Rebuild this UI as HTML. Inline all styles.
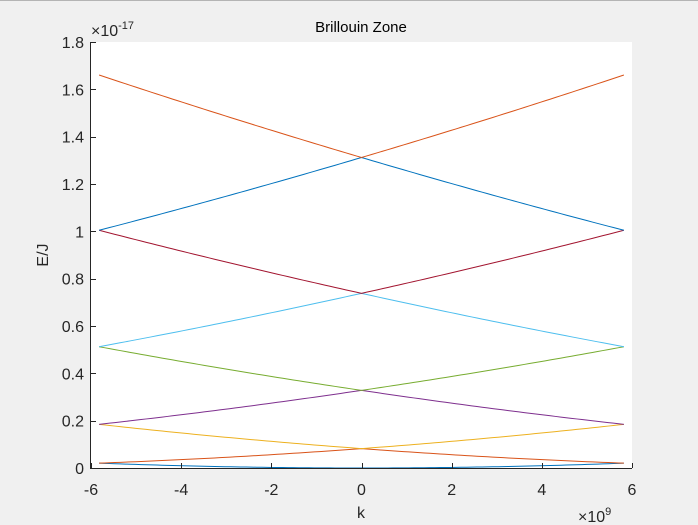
<!DOCTYPE html>
<html><head><style>
html,body{margin:0;padding:0;background:#f0f0f0;}
svg{display:block;font-family:"Liberation Sans",Arial,sans-serif;}
</style></head><body>
<svg id="s" width="698" height="525" viewBox="0 0 698 525" xmlns="http://www.w3.org/2000/svg">
<rect x="0" y="0" width="698" height="525" fill="#f0f0f0"/>
<line x1="0" y1="0.5" x2="698" y2="0.5" stroke="#b4b4b4"/>
<rect x="91" y="42" width="541" height="426" fill="#fff"/>
<g id="curves" fill="none" stroke-width="1"></g>
<g stroke="#262626" stroke-width="1" fill="none">
<line x1="91" y1="468.5" x2="632" y2="468.5"/>
<line x1="90.5" y1="42" x2="90.5" y2="469"/>
<g id="ticks"></g>
</g>
<g id="labels" font-size="16" fill="#262626"></g>
<text x="361" y="32" font-size="15" text-anchor="middle" fill="#000">Brillouin Zone</text>
<text x="361" y="518" font-size="16" text-anchor="middle" fill="#262626">k</text>
<text transform="translate(48,255) rotate(-90)" font-size="16" text-anchor="middle" fill="#262626">E/J</text>
<text x="91" y="36" font-size="16" fill="#262626">×10<tspan font-size="11" dy="-7">-17</tspan></text>
<text x="578" y="522" font-size="16" fill="#262626">×10<tspan font-size="11" dy="-7">9</tspan></text>
</svg>
<script>
var NS="http://www.w3.org/2000/svg";
function el(t,a,p){var e=document.createElementNS(NS,t);for(var k in a)e.setAttribute(k,a[k]);p.appendChild(e);return e;}
var X=function(v){return 91+(v+6)/12*541;};
var Y=function(v){return 468-v/1.8*426;};
var ticks=document.getElementById('ticks'),labels=document.getElementById('labels');
for(var i=-6;i<=6;i+=2){var x=Math.round(X(i))+0.5;el('line',{x1:x,y1:468,x2:x,y2:463},ticks);
 var t=el('text',{x:X(i),y:495,'text-anchor':'middle'},labels);t.textContent=i;}
for(var j=0;j<=9;j++){var v=j*0.2;var y=Math.round(Y(v))+0.5;el('line',{x1:91,y1:y,x2:96,y2:y},ticks);
 var t=el('text',{x:84,y:Y(v)+6,'text-anchor':'end'},labels);t.textContent=(j==0?'0':(j%5==0?(v.toFixed(0)):v.toFixed(1)));}
var A=0.082,kmax=5.82;
var defs=[[0,1,'#0072BD'],[1,-1,'#D95319'],[1,1,'#EDB120'],[2,-1,'#7E2F8E'],[2,1,'#77AC30'],[3,-1,'#4DBEEE'],[3,1,'#A2142F'],[4,-1,'#0072BD'],[4,1,'#D95319']];
var g=document.getElementById('curves');
defs.forEach(function(d){var pts=[];for(var i=0;i<=100;i++){var k=-kmax+2*kmax*i/100;var x=k/kmax*0.5;var e=A*Math.pow(d[0]+d[1]*Math.abs(x),2);pts.push(X(k).toFixed(2)+','+Y(e).toFixed(2));}
 el('polyline',{points:pts.join(' '),stroke:d[2]},g);});
</script>
</body></html>
